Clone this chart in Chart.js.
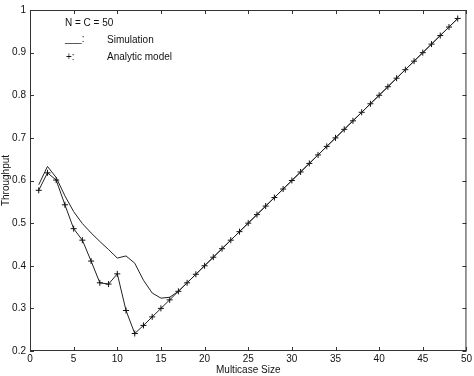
<!DOCTYPE html>
<html>
<head>
<meta charset="utf-8">
<script src="https://cdn.jsdelivr.net/npm/chart.js@4/dist/chart.umd.min.js"></script>
<style>
  body { margin: 0; background: #fff; }
</style>
</head>
<body>
<canvas id="throughputChart" width="474" height="376"></canvas>
<script>
'use strict';

// multicast size (x) and throughput (y)
const sizes = [1, 2, 3, 4, 5, 6, 7, 8, 9, 10, 11, 12, 13, 14, 15, 16, 17, 18, 19, 20,
  21, 22, 23, 24, 25, 26, 27, 28, 29, 30, 31, 32, 33, 34, 35, 36, 37, 38, 39, 40,
  41, 42, 43, 44, 45, 46, 47, 48, 49];

const simulation = [0.590, 0.633, 0.607, 0.564, 0.527, 0.499, 0.477, 0.457, 0.438, 0.418,
  0.423, 0.406, 0.366, 0.336, 0.324, 0.326, 0.340, 0.36, 0.38, 0.40,
  0.42, 0.44, 0.46, 0.48, 0.50, 0.52, 0.54, 0.56, 0.58, 0.60,
  0.62, 0.64, 0.66, 0.68, 0.70, 0.72, 0.74, 0.76, 0.78, 0.80,
  0.82, 0.84, 0.86, 0.88, 0.90, 0.92, 0.94, 0.96, 0.98];

const analytic = [0.577, 0.618, 0.601, 0.543, 0.487, 0.460, 0.411, 0.360, 0.357, 0.381,
  0.295, 0.241, 0.26, 0.28, 0.30, 0.32, 0.34, 0.36, 0.38, 0.40,
  0.42, 0.44, 0.46, 0.48, 0.50, 0.52, 0.54, 0.56, 0.58, 0.60,
  0.62, 0.64, 0.66, 0.68, 0.70, 0.72, 0.74, 0.76, 0.78, 0.80,
  0.82, 0.84, 0.86, 0.88, 0.90, 0.92, 0.94, 0.96, 0.98];

const xTicks = [0, 5, 10, 15, 20, 25, 30, 35, 40, 45, 50];
const yTicks = [0.2, 0.3, 0.4, 0.5, 0.6, 0.7, 0.8, 0.9, 1];
const yTickLabels = ['0.2', '0.3', '0.4', '0.5', '0.6', '0.7', '0.8', '0.9', '1'];

const FONT = '"Liberation Sans", Arial, Helvetica, sans-serif';
const INK = '#111';

function pairs(ys) {
  return sizes.map(function(x, i) { return { x: x, y: ys[i] }; });
}

// matlab style box with inward ticks + the little text legend
const matlabFrame = {
  id: 'matlabFrame',
  afterDraw(chart) {
    const ctx = chart.ctx;
    const a = chart.chartArea;
    const xs = chart.scales.x;
    const ys = chart.scales.y;
    const tl = 4;
    ctx.save();
    ctx.strokeStyle = '#333';
    ctx.lineWidth = 1;
    ctx.strokeRect(a.left + 0.5, a.top + 0.5, a.right - a.left - 1, a.bottom - a.top - 1);
    ctx.beginPath();
    xs.ticks.forEach(function(t) {
      const px = Math.round(xs.getPixelForValue(t.value)) + 0.5;
      ctx.moveTo(px, a.bottom); ctx.lineTo(px, a.bottom - tl);
      ctx.moveTo(px, a.top); ctx.lineTo(px, a.top + tl);
    });
    ys.ticks.forEach(function(t) {
      const py = Math.round(ys.getPixelForValue(t.value)) + 0.5;
      ctx.moveTo(a.left, py); ctx.lineTo(a.left + tl, py);
      ctx.moveTo(a.right, py); ctx.lineTo(a.right - tl, py);
    });
    ctx.stroke();

    ctx.fillStyle = INK;
    ctx.font = '10px ' + FONT;
    ctx.textBaseline = 'middle';
    ctx.textAlign = 'left';
    ctx.fillText('N = C = 50', 65, 23);
    ctx.fillText('___:', 65, 39);
    ctx.fillText('Simulation', 107, 40);
    ctx.fillText('+:', 66, 57);
    ctx.fillText('Analytic model', 107, 57);
    ctx.restore();
  }
};

new Chart(document.getElementById('throughputChart').getContext('2d'), {
  type: 'line',
  data: {
    datasets: [{
      label: 'Simulation',
      data: pairs(simulation),
      borderColor: '#222',
      borderWidth: 1,
      pointRadius: 0,
      tension: 0
    }, {
      label: 'Analytic model',
      data: pairs(analytic),
      borderColor: '#222',
      borderWidth: 1,
      pointStyle: 'cross',
      pointRadius: 3,
      pointBorderColor: INK,
      pointBorderWidth: 1,
      tension: 0
    }]
  },
  options: {
    responsive: false,
    animation: false,
    layout: { padding: { top: 5, right: 6, left: 0, bottom: 0 } },
    plugins: {
      legend: { display: false },
      tooltip: { enabled: false }
    },
    scales: {
      x: {
        type: 'linear',
        min: 0,
        max: 50,
        afterBuildTicks: function(scale) {
          scale.ticks = xTicks.map(function(v) { return { value: v }; });
        },
        afterFit: function(scale) { scale.height = 25; },
        grid: { display: false, drawTicks: false },
        border: { display: false },
        ticks: {
          padding: 2,
          color: INK,
          font: { family: FONT, size: 10 },
          maxRotation: 0,
          callback: function(v) { return String(v); }
        },
        title: {
          display: true,
          text: 'Multicase Size',
          color: INK,
          font: { family: FONT, size: 10 },
          padding: { top: 0, bottom: 0 }
        }
      },
      y: {
        type: 'linear',
        min: 0.2,
        max: 1,
        afterBuildTicks: function(scale) {
          scale.ticks = yTicks.map(function(v) { return { value: v }; });
        },
        afterFit: function(scale) { scale.width = 30; },
        grid: { display: false, drawTicks: false },
        border: { display: false },
        ticks: {
          padding: 4,
          color: INK,
          font: { family: FONT, size: 10 },
          callback: function(v) {
            const i = yTicks.findIndex(function(t) { return Math.abs(t - v) < 1e-9; });
            return i >= 0 ? yTickLabels[i] : '';
          }
        },
        title: {
          display: true,
          text: 'Throughput',
          color: INK,
          font: { family: FONT, size: 10 },
          padding: { top: 0, bottom: 0 }
        }
      }
    }
  },
  plugins: [matlabFrame]
});
</script>
</body>
</html>
